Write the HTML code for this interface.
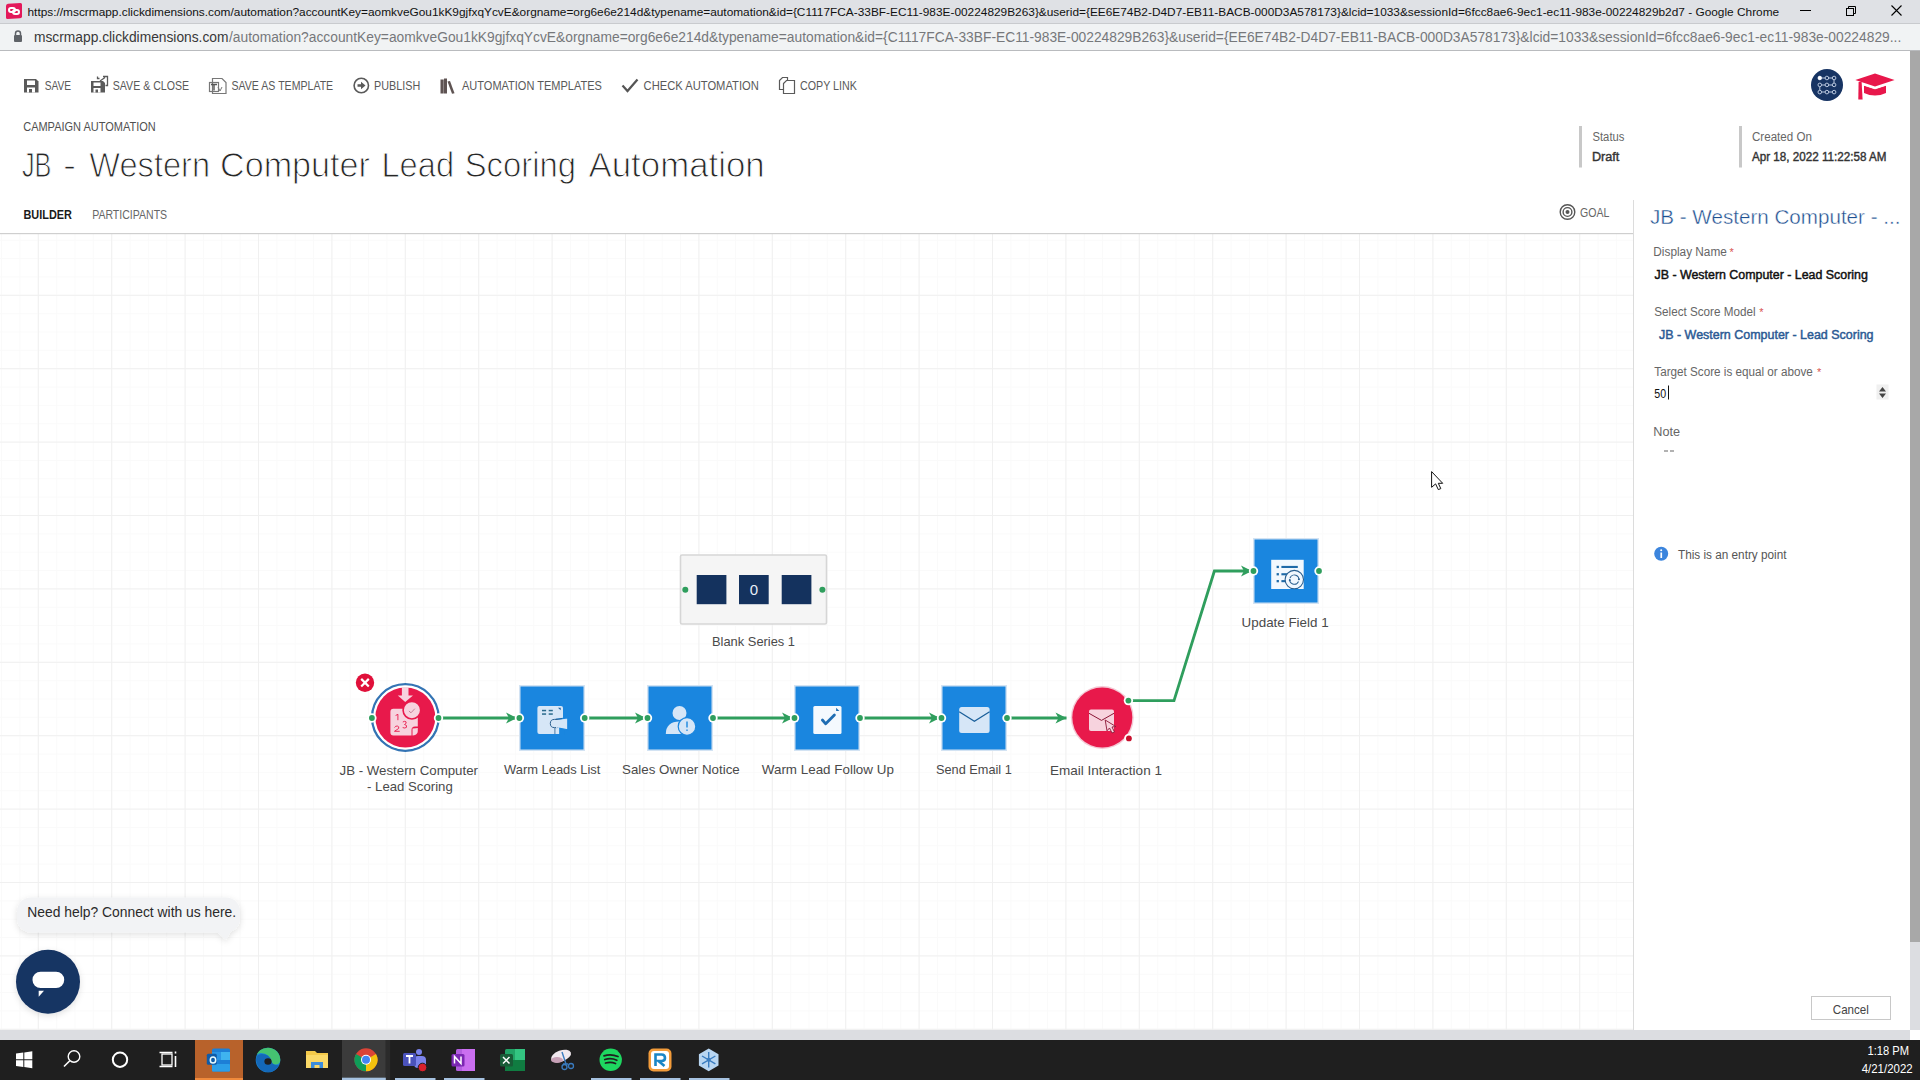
<!DOCTYPE html><html><head><meta charset="utf-8"><style>html,body{margin:0;padding:0;width:1920px;height:1080px;overflow:hidden;background:#fff}svg{display:block;font-family:"Liberation Sans",sans-serif}</style></head><body>
<svg width="1920" height="1080" viewBox="0 0 1920 1080">
<defs><pattern id="gmin" width="18.35" height="18.35" patternUnits="userSpaceOnUse" x="37.8" y="1.2"><path d="M0.5 0V18.35M0 0.5H18.35" stroke="#fafafa" stroke-width="1" fill="none"/></pattern><pattern id="gmaj" width="73.4" height="73.4" patternUnits="userSpaceOnUse" x="37.8" y="1.2"><path d="M0.5 0V73.4M0 0.5H73.4" stroke="#f0f0f0" stroke-width="1" fill="none"/></pattern><filter id="sh" x="-20%" y="-40%" width="140%" height="180%"><feDropShadow dx="0" dy="2" stdDeviation="3" flood-color="#000" flood-opacity="0.12"/></filter></defs>
<rect x="0" y="0" width="1920" height="24" fill="#dfe1e5"/>
<rect x="0" y="23" width="1920" height="1" fill="#c9cbce"/>
<rect x="0" y="24" width="1920" height="26" fill="#f1f3f4"/>
<rect x="0" y="50" width="1920" height="1" fill="#b9bbbe"/>
<path d="M6 6Q6 4 8 3.8L20.5 3Q22 3 22 4.5V16.5Q22 18 20 18.2L7.5 19Q6 19 6 17.5Z" fill="#e3185a"/>
<g fill="none" stroke="#fff" stroke-width="2"><rect x="9" y="8" width="6" height="4" rx="2"/><rect x="13" y="10" width="6" height="4" rx="2"/></g>
<text x="27.50" y="15.8" font-size="11.8" fill="#111" font-weight="normal" textLength="1751.66" lengthAdjust="spacingAndGlyphs" >https://mscrmapp.clickdimensions.com/automation?accountKey=aomkveGou1kK9gjfxqYcvE&amp;orgname=org6e6e214d&amp;typename=automation&amp;id={C1117FCA-33BF-EC11-983E-00224829B263}&amp;userid={EE6E74B2-D4D7-EB11-BACB-000D3A578173}&amp;lcid=1033&amp;sessionId=6fcc8ae6-9ec1-ec11-983e-00224829b2d7 - Google Chrome</text>
<rect x="1800" y="10" width="11" height="1" fill="#000"/>
<g fill="none" stroke="#000" stroke-width="1"><rect x="1846.5" y="8.5" width="7" height="7"/><path d="M1848.5 8.5V6.5H1855.5V13.5H1853.5"/></g>
<path d="M1891.5 5.5L1901.5 15.5M1901.5 5.5L1891.5 15.5" stroke="#000" stroke-width="1.1"/>
<g fill="#5f6368"><rect x="14" y="35" width="8" height="7" rx="1"/><path d="M15.5 35V33.5A2.5 2.5 0 0 1 20.5 33.5V35" fill="none" stroke="#5f6368" stroke-width="1.5"/></g>
<text x="34.00" y="42" font-size="13.8" fill="#383838" font-weight="normal" textLength="194.49" lengthAdjust="spacingAndGlyphs" >mscrmapp.clickdimensions.com</text>
<text x="229.00" y="42" font-size="13.8" fill="#76787b" font-weight="normal" textLength="1672.23" lengthAdjust="spacingAndGlyphs" >/automation?accountKey=aomkveGou1kK9gjfxqYcvE&amp;orgname=org6e6e214d&amp;typename=automation&amp;id={C1117FCA-33BF-EC11-983E-00224829B263}&amp;userid={EE6E74B2-D4D7-EB11-BACB-000D3A578173}&amp;lcid=1033&amp;sessionId=6fcc8ae6-9ec1-ec11-983e-00224829...</text>
<rect x="1910" y="51" width="10" height="979" fill="#dcdde1"/>
<rect x="1910" y="51" width="10" height="891" fill="#a8a8a8"/>
<rect x="0" y="1030" width="1910" height="10" fill="#dcdde1"/>
<text x="44.75" y="90" font-size="12.3" fill="#595959" font-weight="normal" textLength="26.42" lengthAdjust="spacingAndGlyphs" >SAVE</text>
<text x="112.75" y="90" font-size="12.3" fill="#595959" font-weight="normal" textLength="76.42" lengthAdjust="spacingAndGlyphs" >SAVE &amp; CLOSE</text>
<text x="231.50" y="90" font-size="12.3" fill="#595959" font-weight="normal" textLength="101.67" lengthAdjust="spacingAndGlyphs" >SAVE AS TEMPLATE</text>
<text x="374.12" y="90" font-size="12.3" fill="#595959" font-weight="normal" textLength="46.15" lengthAdjust="spacingAndGlyphs" >PUBLISH</text>
<text x="462.00" y="90" font-size="12.3" fill="#595959" font-weight="normal" textLength="139.88" lengthAdjust="spacingAndGlyphs" >AUTOMATION TEMPLATES</text>
<text x="643.60" y="90" font-size="12.3" fill="#595959" font-weight="normal" textLength="115.20" lengthAdjust="spacingAndGlyphs" >CHECK AUTOMATION</text>
<text x="800.00" y="90" font-size="12.3" fill="#595959" font-weight="normal" textLength="56.81" lengthAdjust="spacingAndGlyphs" >COPY LINK</text>
<g fill="#5a5a5a"><path d="M24 79H36L38.5 81.5V92.5H24Z"/></g>
<rect x="27" y="80.5" width="8" height="4.5" fill="#fff"/><rect x="27" y="87.5" width="8" height="5" fill="#fff"/><rect x="29" y="89" width="3" height="3.5" fill="#5a5a5a"/>
<g fill="#5a5a5a"><path d="M91 81H103L105 83V92.5H91Z"/></g><rect x="93.5" y="82.5" width="7" height="3.5" fill="#fff"/><rect x="93.5" y="88" width="7" height="4.5" fill="#fff"/><rect x="95.5" y="89.5" width="2.5" height="3" fill="#5a5a5a"/>
<path d="M99.5 78.5H97.5V76.5M103 76.5H107.5V85.5H105.5M100 81L105 77.5" stroke="#5a5a5a" stroke-width="1.3" fill="none"/>
<g stroke="#777" stroke-width="1.2" fill="none"><path d="M212.5 78.5H222L226 82.5V93.5H212.5Z"/><rect x="209.5" y="82.5" width="9" height="9"/></g><path d="M211 84.5H217M214 84.5V90.5" stroke="#555" stroke-width="1.4"/><path d="M218 87L220 91L222 87" stroke="#777" stroke-width="1" fill="none"/>
<circle cx="361.3" cy="85.5" r="7.2" stroke="#5a5a5a" stroke-width="1.6" fill="none"/><path d="M357.5 84.3H361V81.8L365.5 85.5L361 89.2V86.7H357.5Z" fill="#5a5a5a"/>
<g fill="#5e5352"><rect x="440.5" y="79.5" width="3.2" height="14"/><rect x="444" y="78.5" width="3" height="15"/><path d="M447.5 81.5L450 81L454.5 93.2L452 93.7Z"/></g>
<path d="M622.5 85.5L627.5 91L637.5 79.5" stroke="#555" stroke-width="2.2" fill="none"/>
<g stroke="#5a5a5a" stroke-width="1.2" fill="#fff"><path d="M779.5 80.5L782.5 77.5H787.5V89.5H779.5Z"/><path d="M783.5 83.5L786.5 80.5H794.5V93.5H783.5Z"/></g>
<circle cx="1827" cy="85" r="16" fill="#173463"/>
<g stroke="#c9d6ea" stroke-width="0.9" fill="none"><path d="M1821.6 78H1832.3M1821.6 85H1832.3M1821.6 92H1832.3M1834 78V83.2M1819.8 86.7V90.3"/><circle cx="1819.8" cy="78" r="1.8" fill="#173463"/><circle cx="1819.8" cy="84.9" r="1.8" fill="#173463"/><circle cx="1819.8" cy="92.1" r="1.8" fill="#173463"/><circle cx="1826.9" cy="78" r="1.8" fill="#173463"/><circle cx="1826.9" cy="84.9" r="1.8" fill="#173463"/><circle cx="1826.9" cy="92.1" r="1.8" fill="#173463"/><circle cx="1834.1" cy="78" r="1.8" fill="#173463"/><circle cx="1834.1" cy="84.9" r="1.8" fill="#173463"/><circle cx="1834.1" cy="92.1" r="1.8" fill="#173463"/></g><circle cx="1819.8" cy="78" r="1.9" fill="#fff"/>
<g fill="#e8174b"><path d="M1855.3 80L1875 73.5L1894.6 80L1875 86.5Z"/><path d="M1864 85.5L1875 89L1886 85.5V93Q1875 98 1864 93Z"/><path d="M1858.6 82L1861.6 81.5L1862.6 99.5H1858.3Z"/></g>
<path d="M1864 85.2L1875 88.8L1886 85.2" stroke="#fff" stroke-width="1" fill="none"/>
<text x="23.20" y="131" font-size="12.3" fill="#505050" font-weight="normal" textLength="132.58" lengthAdjust="spacingAndGlyphs" >CAMPAIGN AUTOMATION</text>
<text x="21.90" y="176.6" font-size="34.5" fill="#262626" font-weight="normal" textLength="29.44" lengthAdjust="spacingAndGlyphs" stroke="#fff" stroke-width="1.0">JB</text>
<text x="62.96" y="176.6" font-size="34.5" fill="#262626" font-weight="normal" textLength="13.15" lengthAdjust="spacingAndGlyphs" stroke="#fff" stroke-width="1.0">-</text>
<text x="89.30" y="176.6" font-size="34.5" fill="#262626" font-weight="normal" textLength="120.77" lengthAdjust="spacingAndGlyphs" stroke="#fff" stroke-width="1.0">Western</text>
<text x="220.01" y="176.6" font-size="34.5" fill="#262626" font-weight="normal" textLength="149.97" lengthAdjust="spacingAndGlyphs" stroke="#fff" stroke-width="1.0">Computer</text>
<text x="381.41" y="176.6" font-size="34.5" fill="#262626" font-weight="normal" textLength="72.66" lengthAdjust="spacingAndGlyphs" stroke="#fff" stroke-width="1.0">Lead</text>
<text x="464.65" y="176.6" font-size="34.5" fill="#262626" font-weight="normal" textLength="111.44" lengthAdjust="spacingAndGlyphs" stroke="#fff" stroke-width="1.0">Scoring</text>
<text x="588.50" y="176.6" font-size="34.5" fill="#262626" font-weight="normal" textLength="176.21" lengthAdjust="spacingAndGlyphs" stroke="#fff" stroke-width="1.0">Automation</text>
<text x="23.50" y="219" font-size="12.3" fill="#1a1a1a" font-weight="bold" textLength="48.39" lengthAdjust="spacingAndGlyphs" >BUILDER</text>
<text x="92.14" y="219" font-size="12.3" fill="#666" font-weight="normal" textLength="75.03" lengthAdjust="spacingAndGlyphs" >PARTICIPANTS</text>
<rect x="1579" y="126" width="3" height="41.5" fill="#c8c8c8"/>
<rect x="1739" y="126" width="3" height="41.5" fill="#c8c8c8"/>
<text x="1592.50" y="141" font-size="12.3" fill="#666" font-weight="normal" textLength="31.89" lengthAdjust="spacingAndGlyphs" >Status</text>
<text x="1591.97" y="161" font-size="12.3" fill="#333" font-weight="normal" textLength="27.43" lengthAdjust="spacingAndGlyphs" stroke="#333" stroke-width="0.4">Draft</text>
<text x="1752.00" y="141" font-size="12.3" fill="#666" font-weight="normal" textLength="59.85" lengthAdjust="spacingAndGlyphs" >Created On</text>
<text x="1752.00" y="161" font-size="12.3" fill="#333" font-weight="normal" textLength="134.48" lengthAdjust="spacingAndGlyphs" stroke="#333" stroke-width="0.4">Apr 18, 2022 11:22:58 AM</text>
<circle cx="1567.5" cy="212" r="7.3" fill="none" stroke="#555" stroke-width="1.4"/><circle cx="1567.5" cy="212" r="4.4" fill="none" stroke="#555" stroke-width="1.4"/><circle cx="1567.5" cy="212" r="2" fill="#555"/>
<text x="1580.00" y="217" font-size="12.3" fill="#666" font-weight="normal" textLength="29.36" lengthAdjust="spacingAndGlyphs" >GOAL</text>
<rect x="0" y="233.5" width="1633" height="796.5" fill="url(#gmin)"/>
<rect x="0" y="233.5" width="1633" height="796.5" fill="url(#gmaj)"/>
<rect x="0" y="233" width="1633" height="1.2" fill="#cfcfcf"/>
<rect x="1633" y="200" width="1" height="830" fill="#dcdcdc"/>
<text x="1650.00" y="224" font-size="20.5" fill="#1d4f90" font-weight="normal" textLength="250.45" lengthAdjust="spacingAndGlyphs" stroke="#fff" stroke-width="0.4">JB - Western Computer - ...</text>
<text x="1653.34" y="256" font-size="12.3" fill="#666" font-weight="normal" textLength="73.51" lengthAdjust="spacingAndGlyphs" >Display Name</text>
<text x="1729.6" y="256" font-size="11" fill="#d9534f">*</text>
<text x="1654.50" y="278.5" font-size="12.3" fill="#111" font-weight="normal" textLength="213.34" lengthAdjust="spacingAndGlyphs" stroke="#111" stroke-width="0.45">JB - Western Computer - Lead Scoring</text>
<text x="1654.30" y="316" font-size="12.3" fill="#666" font-weight="normal" textLength="101.19" lengthAdjust="spacingAndGlyphs" >Select Score Model</text>
<text x="1759.1999999999998" y="316" font-size="11" fill="#d9534f">*</text>
<text x="1659.00" y="338.5" font-size="12.3" fill="#2b5a94" font-weight="normal" textLength="214.54" lengthAdjust="spacingAndGlyphs" stroke="#2b5a94" stroke-width="0.45">JB - Western Computer - Lead Scoring</text>
<text x="1654.30" y="376" font-size="12.3" fill="#666" font-weight="normal" textLength="158.55" lengthAdjust="spacingAndGlyphs" >Target Score is equal or above</text>
<text x="1816.8999999999999" y="376" font-size="11" fill="#d9534f">*</text>
<text x="1654.30" y="397.5" font-size="12.3" fill="#111" font-weight="normal" textLength="11.86" lengthAdjust="spacingAndGlyphs" >50</text>
<rect x="1668" y="385.5" width="1" height="14" fill="#111"/>
<rect x="1876.5" y="384.5" width="12" height="15" fill="#f0f0f0"/><path d="M1879 391.5L1882.5 387L1886 391.5ZM1879 393.5L1882.5 398L1886 393.5Z" fill="#444"/>
<text x="1653.27" y="435.5" font-size="12.3" fill="#666" font-weight="normal" textLength="26.76" lengthAdjust="spacingAndGlyphs" >Note</text>
<rect x="1664" y="450.5" width="4" height="1" fill="#666"/><rect x="1670" y="450.5" width="4" height="1" fill="#666"/>
<circle cx="1661.2" cy="553.8" r="7" fill="#3c85dd"/><rect x="1660.4" y="552.5" width="1.7" height="5.5" fill="#fff"/><circle cx="1661.2" cy="550.2" r="1" fill="#fff"/>
<text x="1678.00" y="558.5" font-size="12.3" fill="#555" font-weight="normal" textLength="108.44" lengthAdjust="spacingAndGlyphs" >This is an entry point</text>
<rect x="1811.5" y="996.5" width="79" height="23" fill="#fff" stroke="#c8c8c8" stroke-width="1"/>
<text x="1832.80" y="1014" font-size="13" fill="#444" font-weight="normal" textLength="36.10" lengthAdjust="spacingAndGlyphs" >Cancel</text>
<g filter="url(#sh)"><rect x="17" y="897.5" width="223" height="35" rx="14" fill="#f2f3f5"/><path d="M215 930L226 940L232 929Z" fill="#f2f3f5"/></g>
<text x="27.31" y="917" font-size="14" fill="#2a2a2a" font-weight="normal" textLength="208.87" lengthAdjust="spacingAndGlyphs" >Need help? Connect with us here.</text>
<circle cx="48" cy="981.7" r="32" fill="#173463" filter="url(#sh)"/>
<rect x="32.5" y="971.7" width="31.7" height="16.3" rx="8.1" fill="#fff"/><path d="M38.7 990.8H44L38.7 996.7Z" fill="#fff"/>
<rect x="0" y="1040" width="1920" height="40" fill="#1f1f1f"/>
<rect x="195" y="1040" width="48" height="40" fill="#b8622b"/><rect x="195" y="1078" width="48" height="2" fill="#f08a3c"/>
<rect x="342" y="1040" width="43.8" height="40" fill="#3b3b3b"/><rect x="385.8" y="1040" width="4.4" height="40" fill="#2b2b2b"/><rect x="342" y="1077.7" width="43.8" height="2.3" fill="#a6c2e0"/>
<rect x="395" y="1078" width="40.5" height="2" fill="#a6c2e0"/>
<rect x="444" y="1078" width="40.5" height="2" fill="#a6c2e0"/>
<rect x="591" y="1078" width="40.5" height="2" fill="#a6c2e0"/>
<rect x="640" y="1078" width="40.5" height="2" fill="#a6c2e0"/>
<rect x="689" y="1078" width="40.5" height="2" fill="#a6c2e0"/>
<g fill="#fff"><path d="M16 1053.5L23.3 1052.5V1059.3H16Z"/><path d="M24.3 1052.4L32.3 1051.3V1059.3H24.3Z"/><path d="M16 1060.3H23.3V1067L16 1066Z"/><path d="M24.3 1060.3H32.3V1068.2L24.3 1067.1Z"/></g>
<circle cx="74" cy="1056.5" r="5.8" fill="none" stroke="#fff" stroke-width="1.4"/><path d="M69.8 1060.7L64 1066.5" stroke="#fff" stroke-width="1.6"/>
<circle cx="120" cy="1059.7" r="7.2" fill="none" stroke="#fff" stroke-width="2"/>
<g fill="none" stroke="#fff" stroke-width="1.3"><rect x="162" y="1054" width="10" height="11"/></g><path d="M159.5 1052.5H172.5M159.5 1066.5H172.5" stroke="#fff" stroke-width="1.3"/><path d="M175.5 1051.5V1053.5M175.5 1056V1067" stroke="#fff" stroke-width="1.6"/>
<rect x="212" y="1048.4" width="18" height="23.2" rx="1.5" fill="#1d7fd6"/><rect x="221" y="1052" width="9" height="8" fill="#3fb4ef"/><rect x="212" y="1052" width="9" height="8" fill="#2a94e4"/><rect x="212" y="1064" width="18" height="7.6" rx="1" fill="#2c9fe8"/><rect x="206.8" y="1053.8" width="10" height="11" rx="1.5" fill="#0f5ba8"/><ellipse cx="213" cy="1060" rx="2.7" ry="3.1" fill="none" stroke="#e8fbff" stroke-width="1.5"/>
<circle cx="268" cy="1060" r="12.3" fill="#1a84d6"/><path d="M268 1047.7A12.3 12.3 0 0 1 280.3 1060Q280 1065 274.5 1064.5Q271 1064 271 1060.5Q270 1054 261 1053Q257 1053 256 1057Q258 1048 268 1047.7Z" fill="#45c371"/><path d="M256 1060Q256 1054 262 1054Q269 1054 271 1060Q272 1066 279 1065Q276 1072 268 1072.3Q258 1072 256 1060Z" fill="#1468b8"/><ellipse cx="268" cy="1061.5" rx="3.6" ry="3.2" fill="#1f1f1f"/>
<path d="M306 1051H315L317 1053H328V1068H306Z" fill="#f4c94a"/><rect x="306" y="1055" width="22" height="13" fill="#fbd968"/><path d="M311 1068V1062H323V1068H319.5V1065H314.5V1068Z" fill="#3c8ddc"/>
<circle cx="366" cy="1059.8" r="11.5" fill="#db4437"/><path d="M366 1059.8L376 1054A11.5 11.5 0 0 1 366 1071.3Z" fill="#f4c20d"/><path d="M366 1059.8L366 1071.3A11.5 11.5 0 0 1 356 1054Z" fill="#0f9d58"/><circle cx="366" cy="1059.8" r="5" fill="#fff"/><circle cx="366" cy="1059.8" r="4" fill="#4285f4"/>
<circle cx="419" cy="1052" r="3" fill="#7b83eb"/><rect x="414" y="1056" width="12" height="12" rx="4" fill="#7b83eb"/><rect x="403" y="1053" width="13" height="13" rx="1.5" fill="#4b53bc"/><path d="M406 1056H413M409.5 1056V1063.5" stroke="#fff" stroke-width="1.8"/><circle cx="422.5" cy="1067.5" r="4.3" fill="#d8202c" stroke="#1f1f1f" stroke-width="1"/>
<rect x="456" y="1049" width="19" height="22" rx="1.5" fill="#b35ee0"/><rect x="462" y="1049" width="13" height="22" fill="#ca6ff0"/><rect x="451.5" y="1054" width="13" height="12.5" rx="1.5" fill="#7b27b3"/><path d="M454.5 1063.5V1056.5L461 1063.5V1056.5" stroke="#fff" stroke-width="1.5" fill="none"/>
<rect x="505" y="1049" width="20" height="22" rx="1.5" fill="#21a366"/><rect x="515" y="1049" width="10" height="11" fill="#33c481"/><rect x="505" y="1060" width="20" height="11" fill="#107c41"/><rect x="500" y="1054" width="13" height="12.5" rx="1.5" fill="#185c37"/><path d="M503 1057L509.5 1063.5M509.5 1057L503 1063.5" stroke="#fff" stroke-width="1.5"/>
<ellipse cx="561" cy="1056" rx="10.5" ry="5.5" transform="rotate(-20 561 1056)" fill="#f0e8ee"/><ellipse cx="557" cy="1060" rx="6" ry="3" fill="#c7a0b6"/><path d="M562 1052L566 1064M563 1064L568 1064" stroke="#3a7bbf" stroke-width="1.4" fill="none"/><circle cx="564.5" cy="1067" r="2.5" fill="none" stroke="#3a7bbf" stroke-width="1.3"/><circle cx="571" cy="1066" r="2.5" fill="none" stroke="#3a7bbf" stroke-width="1.3"/>
<circle cx="610.7" cy="1059.8" r="11.2" fill="#1ed760"/><g stroke="#1f1f1f" stroke-width="1.8" fill="none" stroke-linecap="round"><path d="M604 1055.8Q611 1053.5 618 1056.5"/><path d="M604.8 1059.5Q611 1057.5 616.8 1060.2"/><path d="M605.5 1063Q611 1061.5 615.5 1063.5"/></g>
<rect x="648.5" y="1048.5" width="23" height="23" rx="5" fill="#f39c3a"/><rect x="651" y="1051" width="18" height="18" rx="3" fill="#fff"/><path d="M655.5 1066V1054.5H661.5Q665 1054.5 665 1058Q665 1061 661.5 1061H658.5L664.5 1066" stroke="#1b86c6" stroke-width="2.6" fill="none"/>
<path d="M708.7 1048.5L718.5 1054.2V1065.5L708.7 1071.2L698.9 1065.5V1054.2Z" fill="#b8d6f2"/><g stroke="#3a7dc0" stroke-width="1.4" fill="none"><path d="M708.7 1052V1067.6M702 1056L715.4 1063.8M715.4 1056L702 1063.8"/></g><circle cx="708.7" cy="1059.8" r="2" fill="#3a7dc0"/>
<text x="1867.50" y="1055" font-size="12" fill="#fff" font-weight="normal" textLength="41.50" lengthAdjust="spacingAndGlyphs" >1:18 PM</text>
<text x="1861.70" y="1073" font-size="12" fill="#fff" font-weight="normal" textLength="50.99" lengthAdjust="spacingAndGlyphs" >4/21/2022</text>
<path d="M439 718H517" stroke="#2f9e5d" stroke-width="2.8" fill="none"/>
<path d="M0 0L-11 -5.5L-8 0L-11 5.5Z" fill="#2f9e5d" transform="translate(517 718) rotate(0)"/>
<path d="M585 718H646" stroke="#2f9e5d" stroke-width="2.8" fill="none"/>
<path d="M0 0L-11 -5.5L-8 0L-11 5.5Z" fill="#2f9e5d" transform="translate(646 718) rotate(0)"/>
<path d="M713 718H793" stroke="#2f9e5d" stroke-width="2.8" fill="none"/>
<path d="M0 0L-11 -5.5L-8 0L-11 5.5Z" fill="#2f9e5d" transform="translate(793 718) rotate(0)"/>
<path d="M860 718H940" stroke="#2f9e5d" stroke-width="2.8" fill="none"/>
<path d="M0 0L-11 -5.5L-8 0L-11 5.5Z" fill="#2f9e5d" transform="translate(940 718) rotate(0)"/>
<path d="M1007 718H1066.5" stroke="#2f9e5d" stroke-width="2.8" fill="none"/>
<path d="M0 0L-11 -5.5L-8 0L-11 5.5Z" fill="#2f9e5d" transform="translate(1066.5 718) rotate(0)"/>
<path d="M1128.4 700.6H1174L1214.4 571H1252" stroke="#2f9e5d" stroke-width="2.8" fill="none"/>
<path d="M0 0L-11 -5.5L-8 0L-11 5.5Z" fill="#2f9e5d" transform="translate(1252 571) rotate(0)"/>
<rect x="519" y="685" width="66" height="66" fill="#d3e3f3"/><rect x="520.5" y="686.5" width="63" height="63" fill="#1a86df"/>
<rect x="647" y="685" width="66" height="66" fill="#d3e3f3"/><rect x="648.5" y="686.5" width="63" height="63" fill="#1a86df"/>
<rect x="794" y="685" width="66" height="66" fill="#d3e3f3"/><rect x="795.5" y="686.5" width="63" height="63" fill="#1a86df"/>
<rect x="941" y="685" width="66" height="66" fill="#d3e3f3"/><rect x="942.5" y="686.5" width="63" height="63" fill="#1a86df"/>
<rect x="1253" y="538" width="66" height="66" fill="#d3e3f3"/><rect x="1254.5" y="539.5" width="63" height="63" fill="#1a86df"/>
<rect x="537.4" y="706" width="25.6" height="28" rx="2" fill="#d6e6f7"/><path d="M558 707.8L560.7 707.8L560.7 710.3Z" fill="#1f5f9a"/>
<g fill="#2a6a8c"><rect x="542" y="709.8" width="4.1" height="1.5"/><rect x="548.7" y="709.8" width="4.1" height="1.5"/><rect x="542" y="713.3" width="4.1" height="1.5"/><rect x="548.7" y="713.3" width="4.1" height="1.5"/></g>
<rect x="559.3" y="727" width="5" height="8" fill="#1a86df"/><path d="M556 719.4L567.8 717.8V729.8L556 727.6Z" fill="#d6e6f7" stroke="#1a86df" stroke-width="1.2"/><rect x="554.6" y="727.3" width="4.7" height="6.7" fill="#d6e6f7"/><path d="M559.9 728V734" stroke="#1a86df" stroke-width="1.2"/>
<path d="M557.5 719.4H554.4A4.1 4.1 0 0 0 554.4 727.6H557.5" fill="#d6e6f7" stroke="#2a5f8f" stroke-width="1"/><path d="M556 719.4L562 718.6" stroke="#2a5f8f" stroke-width="0.9"/><path d="M554.9 728V734" stroke="#2a5f8f" stroke-width="0.8"/><path d="M556 727.6H557.5" stroke="#d6e6f7" stroke-width="1"/>
<circle cx="679.5" cy="713" r="7" fill="#d6e6f7"/><path d="M665.8 734Q666 721.5 679.5 721.5Q686 721.5 690 724V734Z" fill="#d6e6f7"/>
<circle cx="687" cy="726.5" r="8.8" fill="#d6e6f7" stroke="#1a86df" stroke-width="1.2"/><rect x="686.3" y="721.5" width="1.4" height="6" fill="#1a86df"/><rect x="686.3" y="729.5" width="1.4" height="1.4" fill="#1a86df"/>
<rect x="813.3" y="706" width="28.2" height="28" rx="1.5" fill="#f4f9fe"/><path d="M836.1 707.8L839.4 711.1L836.1 711.1Z" fill="#1f6db3"/>
<path d="M822.4 720L825.7 723.8L834.4 715" stroke="#1f6db3" stroke-width="2.8" fill="none" stroke-linecap="round" stroke-linejoin="round"/>
<rect x="959.2" y="706.9" width="30.4" height="26" rx="2.5" fill="#d6e6f7"/><path d="M959.2 711.7L974.4 721.2L989.6 711.7" stroke="#1a5f9a" stroke-width="1.3" fill="none"/>
<rect x="1271.2" y="559.8" width="32.5" height="29.2" fill="#f2f8fe"/><g fill="#1f6aa8"><rect x="1276.6" y="565.8" width="2.3" height="2.3"/><rect x="1281.4" y="565.9" width="16.4" height="2.1"/><rect x="1276.6" y="573.1" width="2.3" height="2.3"/><rect x="1281.4" y="573.2" width="8" height="2.1"/><rect x="1276.6" y="580" width="2.3" height="2.3"/><rect x="1281.4" y="580.1" width="6" height="2.1"/></g>
<circle cx="1294.3" cy="579.6" r="9.2" fill="#f2f8fe" stroke="#2a5f8f" stroke-width="1.1"/><circle cx="1294.3" cy="579.6" r="4.6" fill="none" stroke="#2a5f8f" stroke-width="1" stroke-dasharray="12.8 1.65" transform="rotate(200 1294.3 579.6)"/><circle cx="1289.8" cy="580.2" r="1" fill="#2a5f8f"/><circle cx="1298.9" cy="579.2" r="1" fill="#2a5f8f"/>
<circle cx="405.3" cy="717.5" r="33.3" fill="none" stroke="#3474b4" stroke-width="2.3"/>
<circle cx="405.3" cy="717.5" r="31.8" fill="#fff"/>
<circle cx="405.3" cy="717.5" r="30" fill="#e8194b"/>
<path d="M393.4 708.7H414.8Q417.8 708.7 417.8 711.7V726.5H415Q411.5 726.5 411.5 730V735.4H393.4Q390.4 735.4 390.4 732.4V711.7Q390.4 708.7 393.4 708.7Z" fill="#f7d3de"/><path d="M412.5 728.5Q416 728 417.8 728V731Q417.8 735 413 735.4H412.5Z" fill="#f7d3de"/>
<path d="M401.9 686.9H408.5V695.4H413L405.2 702L397.8 695.4H401.9Z" fill="#f7d3de"/>
<circle cx="411.9" cy="710.2" r="8.8" fill="#f7d3de" stroke="#e8194b" stroke-width="1.6"/><path d="M408.9 711L411 712.8L414.8 708.7" stroke="#c07890" stroke-width="0.9" fill="none"/>
<g fill="none" stroke="#e8194b" stroke-width="0.9"><path d="M395.6 715.5L397.9 714.3V720.2"/><path d="M394.6 727.5Q395.5 725.8 397.3 726Q399.5 726.5 398.6 728.5L394.5 731.3H399.7"/><path d="M402.8 722Q404.5 720.8 406 721.8Q407 723.5 404.5 724.5Q407.3 725 406.5 727.3Q405 728.6 402.7 727.6"/></g>
<circle cx="371.9" cy="718" r="4.7" fill="#fff"/><circle cx="371.9" cy="718" r="2.9" fill="#2f9e5d"/>
<circle cx="438.5" cy="718" r="4.7" fill="#fff"/><circle cx="438.5" cy="718" r="2.9" fill="#2f9e5d"/>
<circle cx="365" cy="682.7" r="9.2" fill="#e0103a"/><path d="M361.2 678.9L368.8 686.5M368.8 678.9L361.2 686.5" stroke="#fff" stroke-width="2.2"/>
<circle cx="1102.3" cy="717.5" r="31.4" fill="#f4c8d4"/><circle cx="1102.3" cy="717.5" r="30" fill="#e8194b"/>
<rect x="1089" y="709.4" width="25" height="21.6" rx="2" fill="#f7d3de"/><path d="M1089 713.3L1101.5 720.4L1114 713.3" stroke="#8a1535" stroke-width="1" fill="none"/><path d="M1105.2 720L1107 730.8L1109.5 728L1112 733L1114.5 732L1112 727L1115.8 726.5Z" fill="#f7d3de" stroke="#8a1535" stroke-width="0.9"/>
<circle cx="1128.4" cy="700.6" r="4.7" fill="#fff"/><circle cx="1128.4" cy="700.6" r="2.9" fill="#2f9e5d"/>
<circle cx="1128.9" cy="738.4" r="4.7" fill="#fff"/><circle cx="1128.9" cy="738.4" r="2.9" fill="#c8102e"/>
<circle cx="519.4" cy="718" r="4.7" fill="#fff"/><circle cx="519.4" cy="718" r="2.9" fill="#2f9e5d"/>
<circle cx="584.7" cy="718" r="4.7" fill="#fff"/><circle cx="584.7" cy="718" r="2.9" fill="#2f9e5d"/>
<circle cx="647.5" cy="718" r="4.7" fill="#fff"/><circle cx="647.5" cy="718" r="2.9" fill="#2f9e5d"/>
<circle cx="713" cy="718" r="4.7" fill="#fff"/><circle cx="713" cy="718" r="2.9" fill="#2f9e5d"/>
<circle cx="794.5" cy="718" r="4.7" fill="#fff"/><circle cx="794.5" cy="718" r="2.9" fill="#2f9e5d"/>
<circle cx="860" cy="718" r="4.7" fill="#fff"/><circle cx="860" cy="718" r="2.9" fill="#2f9e5d"/>
<circle cx="941.5" cy="718" r="4.7" fill="#fff"/><circle cx="941.5" cy="718" r="2.9" fill="#2f9e5d"/>
<circle cx="1007" cy="718" r="4.7" fill="#fff"/><circle cx="1007" cy="718" r="2.9" fill="#2f9e5d"/>
<circle cx="1253.5" cy="571" r="4.7" fill="#fff"/><circle cx="1253.5" cy="571" r="2.9" fill="#2f9e5d"/>
<circle cx="1319" cy="571" r="4.7" fill="#fff"/><circle cx="1319" cy="571" r="2.9" fill="#2f9e5d"/>
<rect x="680.5" y="555" width="146" height="69" fill="#f5f5f5" stroke="#d6d6d6" stroke-width="1.6" rx="1.5"/>
<rect x="696.7" y="575" width="29.7" height="29.2" fill="#14325e"/>
<rect x="739" y="575" width="29.7" height="29.2" fill="#14325e"/>
<rect x="781.7" y="575" width="29.7" height="29.2" fill="#14325e"/>
<text x="754" y="594.5" font-size="15" fill="#e8eef8" font-weight="normal" text-anchor="middle" >0</text>
<circle cx="685.3" cy="589.8" r="3" fill="#2f9e5d"/><circle cx="822.4" cy="589.8" r="3" fill="#2f9e5d"/>
<text x="712.02" y="645.5" font-size="13.2" fill="#4a4a4a" font-weight="normal" textLength="83.00" lengthAdjust="spacingAndGlyphs" >Blank Series 1</text>
<text x="339.50" y="774.6" font-size="13.2" fill="#4a4a4a" font-weight="normal" textLength="138.49" lengthAdjust="spacingAndGlyphs" >JB - Western Computer</text>
<text x="367.00" y="790.6" font-size="13.2" fill="#4a4a4a" font-weight="normal" textLength="85.73" lengthAdjust="spacingAndGlyphs" >- Lead Scoring</text>
<text x="504.00" y="774" font-size="13.2" fill="#4a4a4a" font-weight="normal" textLength="96.37" lengthAdjust="spacingAndGlyphs" >Warm Leads List</text>
<text x="622.00" y="774" font-size="13.2" fill="#4a4a4a" font-weight="normal" textLength="117.74" lengthAdjust="spacingAndGlyphs" >Sales Owner Notice</text>
<text x="761.80" y="774" font-size="13.2" fill="#4a4a4a" font-weight="normal" textLength="132.04" lengthAdjust="spacingAndGlyphs" >Warm Lead Follow Up</text>
<text x="936.00" y="774" font-size="13.2" fill="#4a4a4a" font-weight="normal" textLength="75.82" lengthAdjust="spacingAndGlyphs" >Send Email 1</text>
<text x="1049.97" y="774.6" font-size="13.2" fill="#4a4a4a" font-weight="normal" textLength="111.97" lengthAdjust="spacingAndGlyphs" >Email Interaction 1</text>
<text x="1241.59" y="626.8" font-size="13.2" fill="#4a4a4a" font-weight="normal" textLength="87.05" lengthAdjust="spacingAndGlyphs" >Update Field 1</text>
<path d="M1431.6 471.6V487.3L1435.6 483.9L1438.3 489.6L1440.8 488.6L1438.3 483.3H1442.7Z" fill="#fff" stroke="#111" stroke-width="1" stroke-linejoin="round"/>
</svg></body></html>
